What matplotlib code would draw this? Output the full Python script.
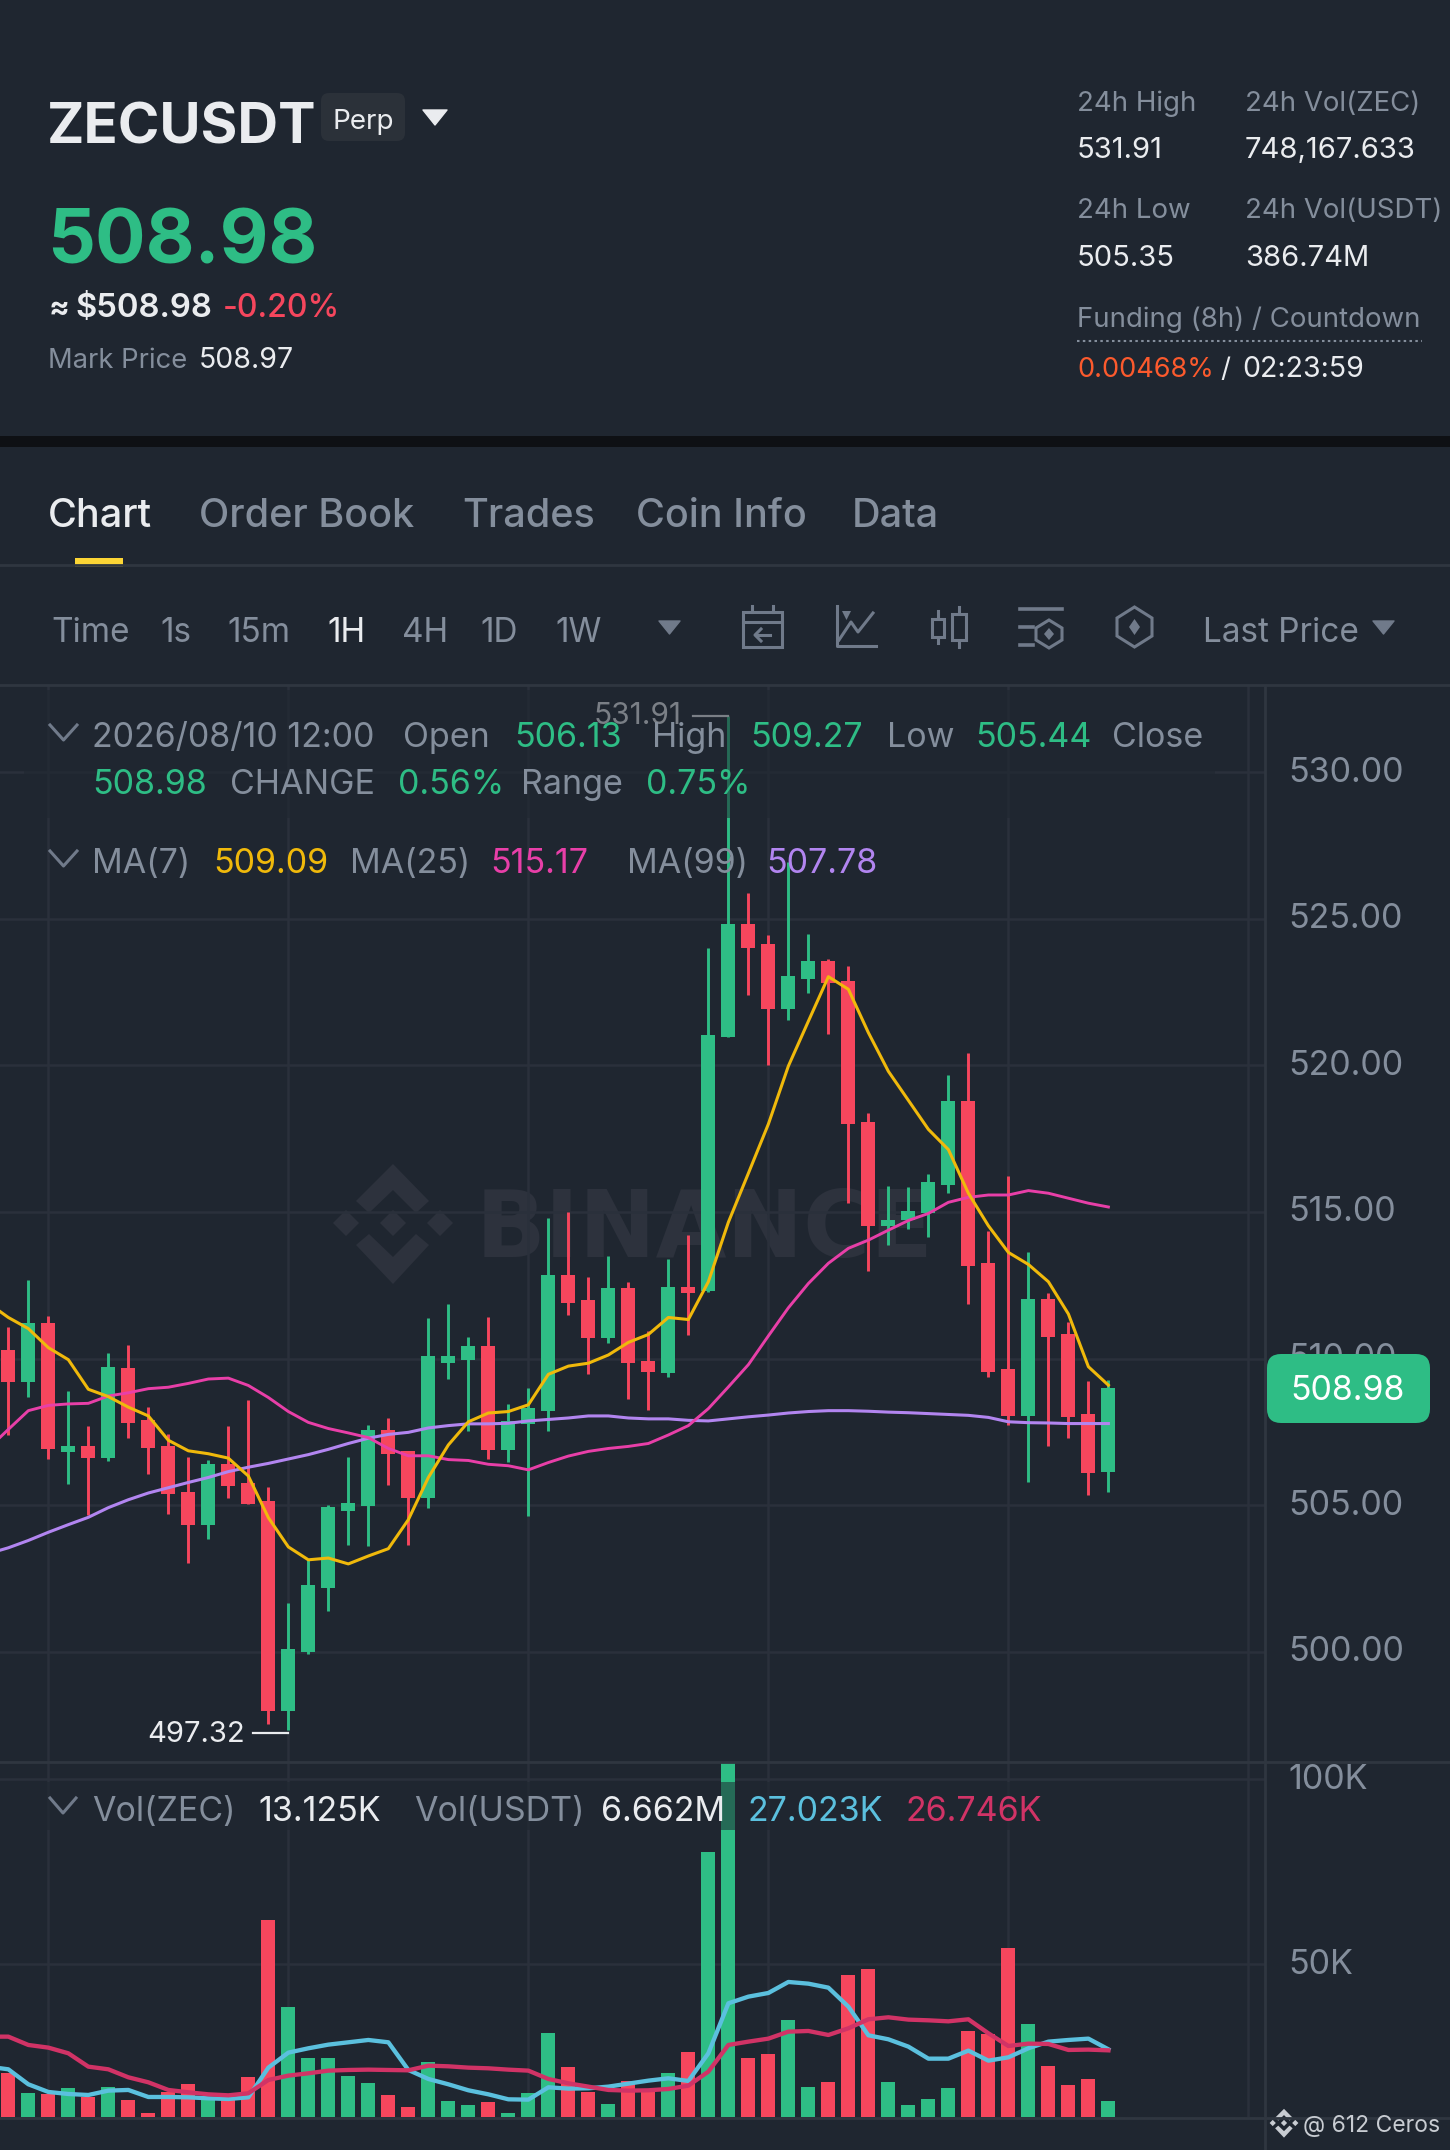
import numpy as np
import matplotlib
matplotlib.use("Agg")
import matplotlib.pyplot as plt
from matplotlib.patches import Polygon, Rectangle, FancyBboxPatch
from matplotlib.transforms import ScaledTranslation

plt.rcParams['font.family'] = ['Inter', 'DejaVu Sans']

BG = '#1F2630'
GRID = '#2A303B'
LINE = '#2F3640'
GREEN = '#2EBD85'
RED = '#F6465D'
GREY = '#848E9C'
WHITE = '#EAECEF'
ICON = '#707A8A'

# candles
opens = [510.29, 509.21, 511.20, 506.80, 507.00, 506.60, 509.69, 507.89, 507.01, 505.44,
         504.33, 506.39, 505.74, 505.13, 497.98, 500.00, 502.17, 504.81, 504.96, 507.56,
         506.85, 505.24, 509.86, 509.96, 510.42, 506.87, 507.78, 508.21, 512.85, 511.98,
         510.69, 512.39, 509.93, 509.50, 512.44, 512.32, 520.96, 524.83, 524.13, 521.92,
         522.94, 523.56, 522.89, 518.08, 514.53, 514.74, 514.95, 515.91, 518.78, 513.25,
         509.63, 508.04, 512.02, 510.85, 508.09, 506.13]
highs = [511.07, 512.69, 511.45, 508.88, 507.68, 510.19, 510.47, 508.34, 507.44, 506.63,
         506.52, 507.68, 508.57, 505.61, 501.67, 503.13, 505.00, 506.63, 507.73, 507.97,
         506.85, 511.38, 511.86, 510.72, 511.40, 508.44, 508.98, 514.79, 514.99, 512.79,
         513.50, 512.61, 510.95, 513.40, 514.21, 524.02, 531.91, 525.88, 524.45, 526.96,
         524.49, 523.64, 523.41, 518.38, 515.87, 515.85, 516.28, 519.68, 520.44, 514.34,
         516.23, 513.65, 512.25, 511.23, 509.24, 509.27]
lows = [507.38, 508.67, 506.58, 505.72, 504.65, 506.50, 507.30, 506.07, 504.70, 503.01,
        503.84, 505.23, 505.03, 497.52, 497.32, 499.90, 501.39, 503.62, 503.61, 505.69,
        503.62, 504.90, 509.31, 507.51, 506.58, 506.47, 504.62, 507.51, 511.48, 509.48,
        510.54, 508.62, 508.25, 509.36, 510.80, 512.27, 520.96, 522.42, 520.01, 521.55,
        522.48, 521.09, 515.29, 513.00, 513.89, 514.41, 514.16, 515.65, 511.86, 509.38,
        507.73, 505.80, 507.01, 507.30, 505.34, 505.44]
closes = [509.21, 511.20, 506.90, 507.01, 506.60, 509.71, 507.79, 506.93, 505.36, 504.33,
          506.40, 505.66, 505.03, 497.98, 500.10, 502.27, 504.93, 505.06, 507.56, 506.75,
          505.24, 510.07, 510.07, 510.42, 506.87, 507.87, 508.30, 512.85, 511.89, 510.70,
          512.39, 509.86, 509.53, 512.44, 512.22, 521.05, 524.83, 524.02, 521.92, 523.06,
          523.56, 522.80, 517.99, 514.53, 514.74, 515.05, 516.02, 518.78, 513.16, 509.54,
          508.04, 512.02, 510.75, 508.00, 506.08, 508.98]

# the averages start one bar left of the first candle, outside the frame
ma7 = [511.89, 511.40, 511.02, 510.37, 509.96, 508.95, 508.70, 508.34, 508.04, 507.21, 506.85,
       506.75, 506.60, 505.99, 504.57, 503.57, 503.13, 503.19, 502.99, 503.26, 503.51,
       504.50, 505.94, 507.05, 507.84, 508.14, 508.19, 508.42, 509.46, 509.74, 509.84,
       510.12, 510.55, 510.82, 511.40, 511.33, 512.62, 514.65, 516.32, 518.00, 519.98,
       521.51, 523.03, 522.60, 521.12, 519.80, 518.81, 517.82, 517.13, 515.64, 514.53,
       513.62, 513.21, 512.62, 511.52, 509.72, 509.09]
ma25 = [506.93, 507.58, 508.22, 508.40, 508.45, 508.47, 508.72, 508.83, 508.97, 509.02, 509.15,
        509.30, 509.33, 509.08, 508.67, 508.19, 507.82, 507.61, 507.46, 507.30, 506.93,
        506.68, 506.68, 506.55, 506.52, 506.39, 506.34, 506.20, 506.45, 506.67, 506.83,
        506.93, 507.00, 507.10, 507.39, 507.71, 508.29, 509.03, 509.79, 510.77, 511.73,
        512.56, 513.25, 513.76, 514.04, 514.38, 514.71, 514.95, 515.33, 515.50, 515.58,
        515.58, 515.73, 515.64, 515.47, 515.30, 515.17]
ma99 = [503.34, 503.54, 503.79, 504.07, 504.33, 504.58, 504.91, 505.18, 505.41, 505.59, 505.77,
        505.94, 506.14, 506.29, 506.42, 506.57, 506.72, 506.90, 507.10, 507.28, 507.41,
        507.48, 507.63, 507.71, 507.77, 507.77, 507.79, 507.87, 507.92, 507.97, 508.04,
        508.04, 507.97, 507.94, 507.94, 507.89, 507.87, 507.94, 508.01, 508.07, 508.14,
        508.19, 508.22, 508.22, 508.20, 508.17, 508.15, 508.12, 508.09, 508.06, 507.99,
        507.84, 507.81, 507.80, 507.78, 507.78, 507.78]

# volume in thousands
volumes = [20.72, 15.14, 14.90, 16.67, 14.23, 16.76, 13.33, 9.73, 15.59, 17.66,
           14.23, 14.20, 19.55, 61.89, 38.56, 24.68, 24.68, 19.73, 17.93, 14.68,
           11.53, 23.51, 13.06, 11.98, 12.79, 9.73, 15.14, 31.53, 22.34, 15.59,
           12.25, 18.38, 16.04, 20.54, 26.31, 80.36, 105.2, 24.68, 25.86, 34.86,
           16.94, 18.11, 47.12, 48.74, 18.20, 12.07, 13.51, 16.58, 31.98, 31.08,
           54.50, 33.87, 22.61, 17.39, 19.01, 13.125]
vol_ma7 = [22.34, 21.62, 17.57, 15.50, 14.95, 14.68, 15.86, 16.04, 14.14, 14.14, 14.05,
           13.78, 13.60, 14.05, 22.07, 26.13, 27.30, 28.29, 28.92, 29.55, 28.92,
           21.44, 19.01, 17.57, 15.95, 14.86, 13.51, 13.42, 16.76, 16.40, 16.49,
           16.94, 17.75, 18.56, 19.19, 18.47, 25.95, 39.46, 41.26, 42.25, 45.23,
           44.77, 43.69, 38.56, 30.81, 29.73, 27.75, 24.50, 24.50, 26.67, 23.96,
           24.86, 27.30, 29.10, 29.55, 29.91, 27.023]
vol_ma25 = [30.45, 30.45, 28.20, 27.48, 25.95, 22.34, 21.62, 19.46, 18.11, 16.04, 15.41,
            14.86, 14.59, 15.14, 18.74, 19.91, 20.54, 21.26, 21.44, 21.53, 21.44,
            21.35, 22.61, 22.43, 22.07, 21.89, 21.53, 21.26, 19.01, 17.84, 16.94,
            16.04, 15.86, 15.95, 16.31, 17.21, 20.99, 28.20, 29.10, 29.91, 31.80,
            31.98, 30.90, 32.70, 35.14, 35.68, 35.05, 34.86, 34.59, 35.14, 31.35,
            27.93, 28.56, 28.47, 26.85, 26.94, 26.746]

price_ticks = [500, 505, 510, 515, 520, 525, 530]
vol_ticks = [50, 100]
vol_tick_labels = ['50K', '100K']
grid_bars = [2, 14, 26, 38, 50, 62]


def frac(left, top, right, bottom):
    # pixel box to figure fractions
    return [left / 1450, 1 - bottom / 2150, (right - left) / 1450, (bottom - top) / 2150]


fig = plt.figure(figsize=(14.5, 21.5), dpi=100, facecolor=BG)

# watermark sits behind everything
back = fig.add_axes([0, 0, 1, 1], zorder=0)
back.set_xlim(0, 1450)
back.set_ylim(2150, 0)
back.axis('off')

price_ax = fig.add_axes(frac(0, 686, 1265, 1762), zorder=1)
vol_ax = fig.add_axes(frac(0, 1762, 1265, 2117), zorder=1)
top = fig.add_axes([0, 0, 1, 1], zorder=2)
top.set_xlim(0, 1450)
top.set_ylim(2150, 0)
top.axis('off')
top.patch.set_alpha(0)


def logo(ax, cx, cy, k, color):
    shapes = [
        [(-37, -22), (0, -59), (36, -22), (23, -10), (0, -33), (-24, -10)],
        [(-37, 22), (-24, 11), (0, 34), (23, 11), (36, 22), (0, 61)],
    ]
    for pts in shapes:
        ax.add_patch(Polygon([(cx + a * k, cy + b * k) for a, b in pts], fc=color, ec='none'))
    for dx in (-47, 0, 47):
        d = [(dx - 13, 0), (dx, -13), (dx + 13, 0), (dx, 13)]
        ax.add_patch(Polygon([(cx + a * k, cy + b * k) for a, b in d], fc=color, ec='none'))


logo(back, 393, 1223, 1.0, '#2D323D')
back.text(705, 1257, 'BINANCE', color='#2D323D', fontsize=66, fontweight='bold',
          family='DejaVu Sans', ha='center', va='baseline')

xs = np.arange(len(opens))
xs_ma = np.arange(-1, len(opens))
colors = [GREEN if c >= o else RED for o, c in zip(opens, closes)]
body_low = np.minimum(opens, closes)
body_h = np.abs(np.array(closes) - np.array(opens))

for ax in (price_ax, vol_ax):
    ax.patch.set_alpha(0)
    ax.set_xlim(-0.4167, 62.83)
    ax.set_xticks(grid_bars)
    ax.tick_params(axis='x', length=0, labelbottom=False)
    ax.tick_params(axis='y', length=0, pad=17, labelsize=24.5, labelcolor=GREY,
                   left=False, right=False, labelleft=False, labelright=True)
    ax.grid(True, color=GRID, lw=1.8)
    ax.set_axisbelow(True)
    for s in ax.spines.values():
        s.set_visible(False)

price_ax.set_ylim(496.23, 532.95)
price_ax.set_yticks(price_ticks)
price_ax.set_yticklabels([f'{t:.2f}' for t in price_ticks])
price_ax.vlines(xs, lows, highs, colors=colors, lw=2.1, zorder=3)
price_ax.bar(xs, body_h, 0.7, bottom=body_low, color=colors, zorder=3)
price_ax.plot(xs_ma, ma99, color='#B285F0', lw=2.2, zorder=4)
price_ax.plot(xs_ma, ma25, color='#E83FA8', lw=2.1, zorder=4)
price_ax.plot(xs_ma, ma7, color='#F0B90B', lw=2.2, zorder=5)

# high and low markers
price_ax.plot([36 - 1.77, 36], [531.91, 531.91], color=WHITE, lw=1.6, zorder=4)
price_ax.text(36 - 2.35, 531.91, '531.91', color=WHITE, fontsize=21.5, ha='right', va='center', zorder=4)
price_ax.plot([14 - 1.75, 14], [497.22, 497.22], color=WHITE, lw=1.6, zorder=4)
price_ax.text(14 - 2.15, 497.18, '497.32', color=WHITE, fontsize=21, ha='right', va='center', zorder=4)

vol_floor = 8.73
vol_ax.set_ylim(vol_floor, 104.68)
vol_ax.set_yticks(vol_ticks)
vol_ax.set_yticklabels(vol_tick_labels)
vol_ax.bar(xs, np.array(volumes) - vol_floor, 0.7, bottom=vol_floor, color=colors, zorder=3)
vol_ax.plot(xs_ma, vol_ma7, color='#5BC0DE', lw=3.1, zorder=4)
vol_ax.plot(xs_ma, vol_ma25, color='#D13366', lw=3.1, zorder=5)

# tick labels sit a little above their grid lines
lift = ScaledTranslation(0, 3 / 100, fig.dpi_scale_trans)
fig.canvas.draw()
for ax in (price_ax, vol_ax):
    for t in ax.get_yticklabels():
        t.set_transform(t.get_transform() + lift)

# frames and dividers
top.add_patch(Rectangle((0, 436), 1450, 11, fc='#0E1014', ec='none'))
for y in (565, 685, 1762, 2118):
    top.plot([0, 1450], [y, y], color=LINE, lw=2.0)
top.plot([1265, 1265], [686, 2150], color=LINE, lw=2.0)
top.add_patch(Rectangle((75, 558), 48, 9, fc='#FCD535', ec='none'))

# legend backgrounds dim what runs under them
top.add_patch(Rectangle((24, 690), 1191, 128, fc=BG, ec='none', alpha=0.55))
top.add_patch(Rectangle((24, 1782), 1020, 48, fc=BG, ec='none', alpha=0.55))


def label(x, y, s, color=GREY, size=24.5, weight='normal', ha='left'):
    top.text(x, y, s, color=color, fontsize=size, fontweight=weight, ha=ha, va='baseline')


def tri(x0, x1, y0, y1, color=GREY):
    top.add_patch(Polygon([(x0, y0), (x1, y0), ((x0 + x1) / 2, y1)], fc=color, ec=color, lw=1, joinstyle='round'))


def chevron(x0, x1, y0, y1):
    top.plot([x0, (x0 + x1) / 2, x1], [y0, y1, y0], color=ICON, lw=2.2)


# header left
label(47, 143, 'ZECUSDT', WHITE, 40.5, 'bold')
top.add_patch(FancyBboxPatch((326, 98), 74, 38, boxstyle='round,pad=5,rounding_size=8', fc='#2B3139', ec='none'))
label(363, 129, 'Perp', WHITE, 20, ha='center')
tri(423, 447, 110, 125, WHITE)
label(47, 264, '508.98', GREEN, 54, 'bold')
label(49, 317, '≈', WHITE, 22, 'bold')
label(75, 317, '$508.98', WHITE, 23.7, 'semibold')
label(223, 317, '-0.20%', RED, 23, 'medium')
label(48, 368, 'Mark Price', GREY, 19.7)
label(199, 368, '508.97', WHITE, 20.5)

# header right
label(1077, 111, '24h High', GREY, 19.9)
label(1245, 111, '24h Vol(ZEC)', GREY, 19.9)
label(1077, 158, '531.91', WHITE, 21)
label(1245, 158, '748,167.633', WHITE, 21)
label(1077, 218, '24h Low', GREY, 19.9)
label(1245, 218, '24h Vol(USDT)', GREY, 19.9)
label(1077, 266, '505.35', WHITE, 21)
label(1245, 266, '386.74M', WHITE, 21)
label(1077, 327, 'Funding (8h) / Countdown', GREY, 19.9)
top.plot([1077, 1422], [341, 341], color=GREY, lw=1.5, ls=(0, (1.2, 1.6)))
label(1077, 377, '0.00468%', '#FC5A2D', 19.5)
label(1220, 377, '/', WHITE, 20)
label(1242, 377, '02:23:59', WHITE, 20.5)

# tabs
for x, s, c in [(48, 'Chart', WHITE), (199, 'Order Book', GREY), (462, 'Trades', GREY),
                (636, 'Coin Info', GREY), (852, 'Data', GREY)]:
    label(x, 527, s, c, 28.5, 'medium')

# toolbar
for x, s, c in [(51, 'Time', GREY), (160, '1s', GREY), (227, '15m', GREY), (327, '1H', WHITE),
                (402, '4H', GREY), (480, '1D', GREY), (555, '1W', GREY), (1203, 'Last Price', GREY)]:
    label(x, 642, s, c, 24)
tri(659, 680, 621, 634, ICON)
tri(1373, 1394, 621, 634, ICON)

# calendar icon
ic = dict(color=ICON, lw=2.2)
top.add_patch(Rectangle((743, 612), 39, 35, fc='none', ec=ICON, lw=2.2))
top.plot([743, 782], [622, 622], **ic)
top.plot([752, 752], [606, 612], **ic)
top.plot([773, 773], [606, 612], **ic)
top.plot([756, 770], [635, 635], **ic)
top.plot([761, 755, 761], [629, 635, 641], **ic)
# line chart icon
top.plot([837, 837, 876], [606, 646, 646], **ic)
top.plot([839, 851, 858, 873], [640, 622, 632, 613], **ic)
top.add_patch(Polygon([(842, 611), (851, 611), (846.5, 620)], fc=ICON, ec='none'))
# candle icon
top.plot([938, 938], [611, 643], **ic)
top.add_patch(Rectangle((932, 619), 12, 18, fc=BG, ec=ICON, lw=2.2, zorder=3))
top.plot([959, 959], [607, 647], **ic)
top.add_patch(Rectangle((952, 614), 14, 26, fc=BG, ec=ICON, lw=2.2, zorder=3))
# indicator icon
top.plot([1020, 1062], [609, 609], color=ICON, lw=2.6)
top.plot([1020, 1033], [627, 627], color=ICON, lw=2.6)
top.plot([1020, 1033], [645, 645], color=ICON, lw=2.6)
top.add_patch(Polygon([(1049, 620), (1062, 628), (1062, 640), (1049, 648), (1036, 640), (1036, 628)],
                      fc='none', ec=ICON, lw=2.2))
top.add_patch(Polygon([(1049, 628), (1054, 634), (1049, 640), (1044, 634)], fc=ICON, ec='none'))
# hex icon
top.add_patch(Polygon([(1134.5, 607), (1152, 618), (1152, 636), (1134.5, 647), (1117, 636), (1117, 618)],
                      fc='none', ec=ICON, lw=2.2))
top.add_patch(Polygon([(1134.5, 619), (1140, 627), (1134.5, 635), (1129, 627)], fc=ICON, ec='none'))

# price legend
chevron(50, 77, 725, 740)
label(92, 747, '2026/08/10 12:00')
for x, s in [(403, 'Open'), (652, 'High'), (887, 'Low'), (1112, 'Close')]:
    label(x, 747, s)
for x, s in [(514, '506.13'), (750, '509.27'), (975, '505.44')]:
    label(x, 747, s, GREEN)
label(92, 794, '508.98', GREEN)
label(230, 794, 'CHANGE')
label(398, 794, '0.56%', GREEN)
label(521, 794, 'Range')
label(646, 794, '0.75%', GREEN)
chevron(50, 77, 851, 866)
label(92, 873, 'MA(7)')
label(213, 873, '509.09', '#F0B90B')
label(350, 873, 'MA(25)')
label(490, 873, '515.17', '#E83FA8')
label(627, 873, 'MA(99)')
label(766, 873, '507.78', '#B285F0')

# volume legend
chevron(50, 76, 1798, 1813)
label(92, 1821, 'Vol(ZEC)')
label(258, 1821, '13.125K', WHITE)
label(414, 1821, 'Vol(USDT)')
label(601, 1821, '6.662M', WHITE)
label(748, 1821, '27.023K', '#5BC0DE')
label(906, 1821, '26.746K', '#D13366')

# last price tag
top.add_patch(FancyBboxPatch((1277, 1364), 143, 49, boxstyle='round,pad=10,rounding_size=14', fc=GREEN, ec='none'))
label(1348, 1400, '508.98', 'white', 24.4, ha='center')

# credit
logo(top, 1284, 2123, 0.24, '#C8CCD2')
label(1303, 2132, '@ 612 Ceros', '#C8CCD2', 16.5)

fig.savefig('out.png', dpi=100, facecolor=BG)
